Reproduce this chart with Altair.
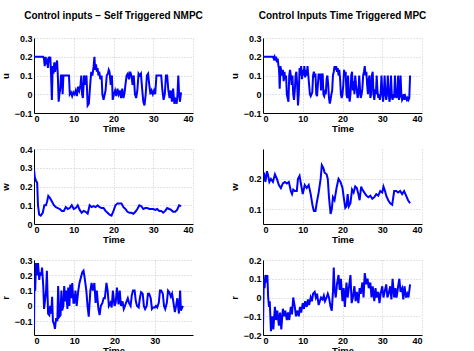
import altair as alt
import pandas as pd

# ---------------- data ----------------
# Top-left: u, self-triggered NMPC
u_self_t = [0, 2.3, 2.5, 2.7, 2.9, 3.1, 3.3, 3.5, 3.7, 3.9, 4.1, 4.3, 4.5, 4.7, 4.9, 5.1, 5.3, 5.5, 5.8, 6.0,
            6.2, 6.4, 6.6, 6.8, 7.0, 7.2, 7.4, 7.8, 8.3, 8.8, 9.0, 9.3, 9.6, 9.9, 10.2, 10.5, 10.8, 11.1, 11.4, 11.7,
            11.9, 12.1, 12.3, 12.6, 12.9, 13.2, 13.5, 13.8, 14.1, 14.4, 14.7, 15.0, 15.2, 15.4, 15.6, 15.8, 16.0, 16.2, 16.4, 16.7,
            17.0, 17.2, 17.5, 17.8, 18.0, 18.3, 18.6, 18.8, 19.0, 19.3, 19.6, 19.8, 20.1, 20.4, 20.7, 21.0, 21.3, 21.6, 21.9, 22.2,
            22.5, 22.8, 23.0, 23.3, 23.6, 23.9, 24.2, 24.5, 24.8, 25.1, 25.4, 25.7, 26.0, 26.3, 26.6, 26.9, 27.2, 27.5, 27.8, 28.1,
            28.4, 28.7, 29.0, 29.3, 29.6, 29.9, 30.2, 30.5, 30.8, 31.2, 31.6, 32.0, 32.3, 32.6, 32.9, 33.2, 33.5, 33.8, 34.1, 34.4,
            34.7, 35.0, 35.3, 35.6, 35.9, 36.1, 36.3, 36.5, 36.7, 37.0]
u_self = [0.2, 0.2, 0.19, 0.15, 0.2, 0.16, 0.19, 0.14, 0.2, 0.17, 0.2, 0.1, -0.03, 0.15, 0.11, 0.17, 0.12, 0.15, 0.18, 0.1,
          -0.04, 0.0, 0.03, 0.1, 0.1, 0.0, 0.1, 0.1, 0.1, 0.1, 0.0, 0.01, -0.01, 0.01, 0.0, 0.02, -0.01, 0.04, 0.02, 0.05,
          0.1, 0.0, -0.02, 0.1, 0.05, 0.1, -0.06, -0.05, 0.04, 0.12, 0.1, 0.15, 0.2, 0.13, 0.16, 0.12, 0.14, 0.1, 0.12, 0.08,
          0.1, 0.0, -0.03, 0.0, 0.02, 0.1, 0.11, 0.13, 0.12, 0.05, 0.1, -0.03, 0.0, 0.02, -0.01, 0.03, 0.0, 0.02, -0.02, 0.03,
          -0.02, 0.01, 0.05, 0.1, 0.11, 0.08, 0.12, 0.1, 0.05, 0.1, 0.0, -0.02, 0.02, 0.11, 0.1, 0.11, 0.03, -0.04, -0.06, 0.0,
          0.1, 0.11, 0.05, 0.0, 0.02, 0.0, 0.02, 0.0, 0.1, 0.1, 0.1, 0.1, 0.02, -0.03, 0.0, 0.1, 0.1, 0.02, -0.02, 0.02,
          -0.04, 0.03, -0.05, -0.03, -0.05, 0.0, 0.1, 0.0, -0.04, 0.01]

# Top-right: u, time-triggered MPC
u_time_t = [0, 2.5, 2.7, 2.9, 3.1, 3.3, 3.5, 3.7, 3.9, 4.0, 4.1, 4.2, 4.4, 4.6, 4.8, 5.0, 5.2, 5.4, 5.6, 5.8,
            6.0, 6.2, 6.4, 6.6, 6.8, 7.0, 7.2, 7.4, 7.6, 7.8, 8.0, 8.2, 8.4, 8.6, 8.8, 9.0, 9.2, 9.4, 9.6, 9.8,
            10.0, 10.2, 10.4, 10.6, 10.8, 11.0, 11.2, 11.4, 11.6, 11.8, 12.0, 12.2, 12.4, 12.6, 12.8, 13.0, 13.2, 13.4, 13.6, 13.8,
            14.0, 14.2, 14.4, 14.6, 14.8, 15.0, 15.2, 15.4, 15.6, 15.8, 16.0, 16.2, 16.4, 16.6, 16.8, 17.0, 17.2, 17.4, 17.6, 17.8,
            18.0, 18.2, 18.4, 18.6, 18.8, 19.0, 19.2, 19.4, 19.6, 19.8, 20.0, 20.2, 20.4, 20.6, 20.8, 21.0, 21.2, 21.4, 21.6, 21.8,
            22.0, 22.2, 22.4, 22.6, 22.8, 23.0, 23.2, 23.4, 23.6, 23.8, 24.0, 24.2, 24.4, 24.6, 24.8, 25.0, 25.2, 25.4, 25.6, 25.8,
            26.0, 26.2, 26.4, 26.6, 26.8, 27.0, 27.2, 27.4, 27.6, 27.8, 28.0, 28.2, 28.4, 28.6, 28.8, 29.0, 29.2, 29.4, 29.6, 29.8,
            30.0, 30.2, 30.4, 30.6, 30.8, 31.0, 31.2, 31.4, 31.6, 31.8, 32.0, 32.2, 32.4, 32.6, 32.8, 33.0, 33.2, 33.4, 33.6, 33.8,
            34.0, 34.2, 34.4, 34.6, 34.8, 35.0, 35.2, 35.4, 35.6, 35.8, 36.0, 36.2, 36.4, 36.6, 36.8, 37.0]
u_time = [0.2, 0.2, 0.19, 0.2, 0.18, 0.2, 0.17, 0.19, 0.15, 0.14, 0.1, 0.03, 0.15, 0.12, 0.1, 0.13, 0.07, 0.12, 0.08, 0.1,
          0.0, -0.02, -0.04, 0.1, 0.13, 0.1, 0.05, 0.1, 0.0, -0.03, 0.02, 0.1, 0.12, 0.05, -0.06, 0.0, 0.14, 0.1, 0.15, 0.08,
          0.13, 0.1, 0.15, 0.09, 0.13, 0.1, 0.15, 0.1, 0.05, 0.0, -0.01, 0.0, 0.01, 0.1, 0.12, 0.09, 0.11, 0.0, -0.01, 0.05,
          0.11, 0.08, 0.11, 0.02, 0.1, 0.11, 0.0, -0.01, 0.01, 0.0, 0.08, 0.1, 0.05, -0.02, -0.05, -0.03, 0.0, 0.02, 0.1, 0.12,
          0.15, 0.13, 0.15, 0.12, 0.14, 0.1, 0.13, 0.08, 0.0, -0.02, 0.0, 0.05, 0.13, 0.1, 0.12, 0.0, -0.02, 0.1, 0.0, -0.04,
          0.0, 0.1, 0.12, 0.02, 0.07, 0.0, 0.1, 0.05, 0.02, -0.02, 0.0, 0.1, 0.03, -0.02, 0.0, 0.03, 0.1, 0.12, 0.15, 0.1,
          0.12, 0.05, 0.0, 0.08, 0.1, -0.02, 0.0, 0.1, 0.12, 0.0, -0.03, 0.01, 0.0, 0.1, 0.02, -0.02, 0.0, -0.03, 0.0, 0.1,
          0.02, -0.04, 0.0, 0.1, 0.01, -0.03, 0.0, 0.1, 0.02, -0.04, -0.02, 0.1, 0.0, -0.03, 0.0, -0.02, 0.1, 0.0, -0.02, 0.0,
          0.1, -0.03, -0.01, 0.1, 0.0, -0.03, -0.02, 0.0, -0.03, -0.01, -0.02, -0.03, -0.02, -0.03, -0.02, 0.1]

# Middle-left: w, self-triggered NMPC
w_self_t = [0, 0.2, 0.5, 0.8, 1.0, 1.3, 1.7, 2.2, 2.6, 3.0, 3.3, 3.6, 4.0, 4.5, 5.0, 5.5, 6.0, 6.5, 7.0, 7.5,
            8.0, 8.5, 9.0, 9.5, 10.0, 10.5, 11.0, 11.5, 12.0, 12.5, 13.0, 13.5, 14.0, 14.5, 15.0, 15.5, 16.0, 16.5, 17.0, 17.5,
            18.0, 18.5, 19.0, 19.5, 20.0, 20.5, 21.0, 21.5, 22.0, 22.5, 23.0, 23.5, 24.0, 24.5, 25.0, 25.5, 26.0, 26.5, 27.0, 27.5,
            28.0, 28.5, 29.0, 29.5, 30.0, 30.5, 31.0, 31.5, 32.0, 32.5, 33.0, 33.5, 34.0, 34.5, 35.0, 35.5, 36.0, 36.5, 37.0]
w_self = [0.29, 0.25, 0.23, 0.22, 0.1, 0.05, 0.045, 0.06, 0.1, 0.1, 0.12, 0.15, 0.14, 0.12, 0.1, 0.09, 0.085, 0.08, 0.07, 0.07,
          0.09, 0.08, 0.085, 0.1, 0.08, 0.085, 0.1, 0.075, 0.06, 0.07, 0.065, 0.055, 0.1, 0.09, 0.095, 0.09, 0.1, 0.09, 0.085, 0.085,
          0.07, 0.06, 0.05, 0.045, 0.07, 0.1, 0.11, 0.11, 0.11, 0.09, 0.08, 0.065, 0.06, 0.06, 0.055, 0.065, 0.08, 0.1, 0.095, 0.08,
          0.085, 0.085, 0.08, 0.08, 0.08, 0.075, 0.08, 0.07, 0.07, 0.06, 0.07, 0.085, 0.08, 0.075, 0.065, 0.065, 0.075, 0.1, 0.095]

# Middle-right: w, time-triggered MPC
w_time_t = [0, 0.3, 0.6, 1.0, 1.3, 1.6, 2.0, 2.5, 3.0, 3.5, 4.0, 4.5, 5.0, 5.5, 6.0, 6.5, 7.0, 7.3, 7.6, 8.0,
            8.5, 8.8, 9.2, 9.6, 10.0, 10.5, 11.0, 11.5, 12.0, 12.5, 12.8, 13.2, 13.5, 14.0, 14.5, 14.8, 15.2, 15.5, 16.0, 16.3,
            16.6, 17.0, 17.3, 17.6, 18.0, 18.5, 19.0, 19.5, 20.0, 20.3, 20.7, 21.0, 21.3, 21.6, 22.0, 22.4, 22.8, 23.2, 23.6, 24.0,
            24.3, 24.7, 25.0, 25.5, 26.0, 26.5, 27.0, 27.5, 28.0, 28.5, 29.0, 29.5, 30.0, 30.3, 30.7, 31.0, 31.5, 32.0, 32.5, 33.0,
            33.5, 34.0, 34.5, 35.0, 35.5, 36.0, 36.5, 37.0]
w_time = [0.21, 0.215, 0.19, 0.225, 0.21, 0.19, 0.2, 0.19, 0.215, 0.2, 0.18, 0.17, 0.185, 0.19, 0.185, 0.19, 0.16, 0.15, 0.165, 0.16,
          0.16, 0.2, 0.21, 0.18, 0.15, 0.18, 0.17, 0.18, 0.15, 0.11, 0.095, 0.095, 0.12, 0.155, 0.2, 0.245, 0.235, 0.22, 0.215, 0.2,
          0.14, 0.085, 0.1, 0.14, 0.13, 0.17, 0.2, 0.19, 0.17, 0.14, 0.105, 0.11, 0.15, 0.11, 0.12, 0.165, 0.155, 0.175, 0.17, 0.15,
          0.13, 0.175, 0.165, 0.155, 0.145, 0.14, 0.145, 0.135, 0.14, 0.15, 0.145, 0.16, 0.155, 0.175, 0.16, 0.145, 0.13, 0.12, 0.115, 0.16,
          0.16, 0.155, 0.16, 0.15, 0.16, 0.145, 0.13, 0.12]

# Bottom-left: r, self-triggered NMPC
r_self_t = [0, 0.1, 0.3, 0.5, 0.7, 1.0, 1.3, 1.5, 1.8, 2.0, 2.3, 2.5, 2.8, 3.0, 3.2, 3.5, 3.8, 4.0, 4.3, 4.5,
            4.7, 5.0, 5.2, 5.5, 5.8, 6.0, 6.3, 6.6, 6.8, 7.0, 7.3, 7.5, 7.8, 8.0, 8.3, 8.5, 8.8, 9.0, 9.3, 9.5,
            9.8, 10.0, 10.3, 10.6, 11.0, 11.3, 11.6, 12.0, 12.3, 12.6, 13.0, 13.3, 13.6, 14.0, 14.3, 14.6, 15.0, 15.3, 15.6, 16.0,
            16.3, 16.6, 17.0, 17.3, 17.6, 18.0, 18.3, 18.6, 19.0, 19.3, 19.6, 20.0, 20.3, 20.6, 21.0, 21.3, 21.6, 22.0, 22.3, 22.6,
            23.0, 23.3, 23.6, 24.0, 24.3, 24.6, 25.0, 25.3, 25.6, 26.0, 26.3, 26.6, 27.0, 27.3, 27.6, 28.0, 28.3, 28.6, 29.0, 29.3,
            29.6, 30.0, 30.3, 30.6, 31.0, 31.3, 31.6, 32.0, 32.3, 32.6, 33.0, 33.3, 33.6, 34.0, 34.3, 34.6, 35.0, 35.3, 35.6, 36.0,
            36.3, 36.5, 37.0]
r_self = [-0.15, 0.15, 0.1, 0.28, 0.2, 0.28, 0.17, 0.22, 0.2, 0.25, 0.13, -0.02, 0.05, 0.1, 0.23, -0.05, -0.06, 0.0, -0.05, 0.06,
          -0.1, -0.12, -0.15, -0.08, -0.1, 0.13, -0.07, -0.06, 0.1, -0.03, 0.0, 0.13, 0.03, 0.1, -0.02, 0.12, 0.0, 0.14, 0.05, 0.15,
          0.02, 0.02, 0.1, 0.0, 0.1, 0.15, 0.18, 0.22, 0.23, 0.18, 0.1, 0.0, -0.07, 0.1, 0.15, 0.1, 0.15, 0.02, 0.1, -0.02,
          -0.06, 0.0, 0.02, 0.05, 0.05, 0.15, 0.1, 0.0, 0.02, -0.01, 0.1, 0.0, 0.02, 0.12, 0.01, 0.1, 0.0, 0.03, -0.02, 0.0,
          0.03, 0.05, 0.02, 0.0, 0.07, 0.1, 0.1, 0.03, 0.0, -0.01, 0.05, 0.09, 0.08, 0.0, -0.02, 0.0, 0.08, 0.08, 0.05, -0.02,
          -0.01, -0.01, 0.0, -0.01, 0.02, 0.1, 0.1, 0.08, 0.0, -0.02, 0.02, 0.1, 0.09, 0.06, 0.08, 0.03, -0.04, 0.0, 0.05, -0.05,
          0.1, -0.03, 0.0]

# Bottom-right: r, time-triggered MPC
r_time_t = [0, 0.2, 0.4, 0.6, 0.9, 1.1, 1.3, 1.5, 1.7, 2.0, 2.3, 2.6, 3.0, 3.3, 3.6, 4.0, 4.3, 4.6, 5.0, 5.3,
            5.6, 6.0, 6.3, 6.6, 7.0, 7.3, 7.6, 8.0, 8.3, 8.6, 9.0, 9.3, 9.6, 10.0, 10.3, 10.6, 11.0, 11.3, 11.6, 12.0,
            12.3, 12.6, 13.0, 13.3, 13.6, 14.0, 14.3, 14.6, 15.0, 15.3, 15.6, 16.0, 16.3, 16.6, 17.0, 17.3, 17.6, 17.8, 18.0, 18.3,
            18.6, 19.0, 19.3, 19.6, 20.0, 20.3, 20.6, 21.0, 21.3, 21.6, 22.0, 22.3, 22.6, 23.0, 23.3, 23.6, 24.0, 24.3, 24.6, 25.0,
            25.3, 25.6, 26.0, 26.3, 26.6, 27.0, 27.3, 27.6, 28.0, 28.3, 28.6, 29.0, 29.3, 29.6, 30.0, 30.3, 30.6, 31.0, 31.3, 31.6,
            32.0, 32.3, 32.6, 33.0, 33.3, 33.6, 34.0, 34.3, 34.6, 35.0, 35.3, 35.6, 36.0, 36.3, 36.6, 37.0]
r_time = [-0.17, 0.1, 0.05, 0.12, 0.08, 0.12, 0.0, -0.05, -0.02, -0.18, -0.1, -0.17, -0.05, -0.12, -0.07, -0.15, -0.08, -0.17, -0.06, -0.1,
          -0.07, -0.12, -0.08, -0.12, -0.05, -0.09, 0.0, -0.05, -0.1, -0.07, -0.1, -0.05, -0.08, -0.03, -0.06, -0.02, -0.05, -0.01, -0.04, 0.0,
          -0.02, 0.02, 0.03, 0.0, 0.02, -0.04, -0.02, 0.0, -0.01, 0.01, -0.02, 0.0, 0.02, 0.0, -0.05, -0.07, 0.03, 0.16, 0.05, 0.0,
          0.07, 0.12, 0.04, 0.1, -0.02, 0.05, -0.05, 0.08, 0.0, 0.05, 0.12, -0.03, 0.0, 0.06, -0.02, 0.03, -0.03, 0.05, 0.02, 0.08,
          0.0, 0.13, 0.07, 0.1, 0.05, 0.08, 0.0, 0.06, -0.02, 0.05, 0.0, 0.03, -0.03, 0.02, 0.06, 0.0, 0.03, 0.07, 0.0, 0.02,
          0.06, -0.01, 0.1, 0.0, 0.05, 0.0, 0.06, 0.1, 0.03, 0.05, -0.01, 0.06, 0.0, 0.02, 0.0, 0.07]

title_left = "Control inputs \u2212 Self Triggered NMPC"
title_right = "Control Inputs Time Triggered MPC"

FONT = "Liberation Sans"
BLUE = "#0000ff"
W, H = 159, 75


def panel(t, v, ylabel, ydom, yticks, xdom, xticks, title=None):
    df = pd.DataFrame({"t": t, "v": v})
    props = dict(width=W, height=H)
    if title is not None:
        props["title"] = alt.TitleParams(title, fontSize=10, font=FONT, fontWeight="bold",
                                         color="black", anchor="middle", offset=13)
    return alt.Chart(df).mark_line(color=BLUE, strokeWidth=2, clip=True).encode(
        x=alt.X("t:Q", title="Time",
                scale=alt.Scale(domain=xdom, nice=False, zero=False),
                axis=alt.Axis(values=xticks, format="d")),
        y=alt.Y("v:Q", title=ylabel,
                scale=alt.Scale(domain=ydom, nice=False, zero=False),
                axis=alt.Axis(values=yticks, format="~g")),
    ).properties(**props)


p1 = panel(u_self_t, u_self, "u", [-0.1, 0.3], [-0.1, 0, 0.1, 0.2, 0.3], [0, 40], [0, 10, 20, 30, 40], title_left)
p2 = panel(u_time_t, u_time, "u", [-0.1, 0.3], [-0.1, 0, 0.1, 0.2, 0.3], [0, 40], [0, 10, 20, 30, 40], title_right)
p3 = panel(w_self_t, w_self, "w", [0, 0.4], [0, 0.1, 0.2, 0.3, 0.4], [0, 40], [0, 10, 20, 30, 40])
p4 = panel(w_time_t, w_time, "w", [0.052, 0.298], [0.1, 0.2], [0, 40], [0, 10, 20, 30, 40])
p5 = panel(r_self_t, r_self, "r", [-0.19, 0.3], [-0.1, 0, 0.1, 0.2, 0.3], [0, 39.5], [0, 10, 20, 30])
p6 = panel(r_time_t, r_time, "r", [-0.2, 0.2], [-0.2, -0.1, 0, 0.1, 0.2], [0, 40], [0, 10, 20, 30, 40])

chart = alt.concat(p1, p2, p3, p4, p5, p6, columns=2, bounds="flush",
                   spacing={"row": 36, "column": 70}).properties(
    padding={"top": 11, "left": 0, "right": 5, "bottom": 5},
    background="white",
).configure_axis(
    labelFont=FONT, labelFontWeight="bold", labelFontSize=9, labelColor="black",
    titleFont=FONT, titleFontWeight="bold", titleFontSize=9.5, titleColor="black",
    domainColor="black", domainWidth=1,
    ticks=False,
    grid=True, gridColor="#b8b8b8", gridDash=[1, 2], gridWidth=0.8,
).configure_axisY(
    minExtent=22, maxExtent=22, titlePadding=2, labelPadding=2,
).configure_axisX(
    labelPadding=1, titlePadding=0,
).configure_view(stroke=None)

chart.save("out.html", embed_options={"renderer": "svg", "actions": False})
